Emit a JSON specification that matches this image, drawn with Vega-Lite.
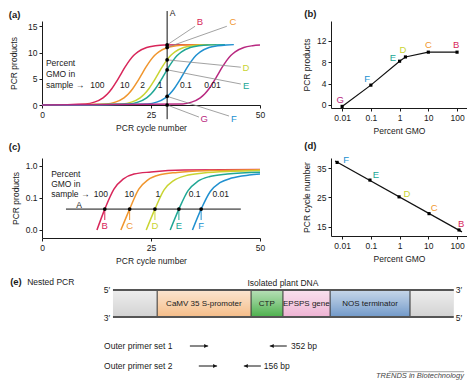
{
"$schema": "https://vega.github.io/schema/vega-lite/v6.json",
"background": "white",
"padding": {"left": 8, "top": 8, "right": 0, "bottom": 0},
"columns": 2,
"bounds": "flush",
"align": {"row": "each", "column": "each"},
"spacing": {"row": 50, "column": 71},
"config": {
  "view": {"stroke": null},
  "font": "Liberation Sans",
  "text": {"font": "Liberation Sans", "fontSize": 8.5, "color": "#1a1a1a"},
  "axis": {"grid": false, "domainColor": "#1a1a1a", "tickColor": "#1a1a1a", "labelColor": "#1a1a1a", "titleColor": "#1a1a1a", "labelFont": "Liberation Sans", "titleFont": "Liberation Sans", "labelFontSize": 8.5, "titleFontSize": 8.5, "titleFontWeight": "normal", "tickSize": 3, "labelPadding": 2, "labelFlush": false, "titlePadding": 5}
},
"datasets": {
  "cA": [
    {"k":"B","x":0,"y":0},{"k":"B","x":10,"y":0.21},{"k":"B","x":12,"y":0.54},{"k":"B","x":14,"y":1.37},{"k":"B","x":15,"y":2.09},{"k":"B","x":16,"y":3.09},{"k":"B","x":17,"y":4.35},{"k":"B","x":18,"y":5.75},{"k":"B","x":19,"y":7.15},{"k":"B","x":20,"y":8.41},{"k":"B","x":21,"y":9.41},{"k":"B","x":22,"y":10.13},{"k":"B","x":24,"y":10.96},{"k":"B","x":26,"y":11.29},{"k":"B","x":28,"y":11.45},{"k":"B","x":36,"y":11.5},
    {"k":"C","x":0,"y":0},{"k":"C","x":14.8,"y":0.21},{"k":"C","x":16.8,"y":0.54},{"k":"C","x":18.8,"y":1.37},{"k":"C","x":19.8,"y":2.09},{"k":"C","x":20.8,"y":3.09},{"k":"C","x":21.8,"y":4.35},{"k":"C","x":22.8,"y":5.75},{"k":"C","x":23.8,"y":7.15},{"k":"C","x":24.8,"y":8.41},{"k":"C","x":25.8,"y":9.41},{"k":"C","x":26.8,"y":10.13},{"k":"C","x":28.8,"y":10.96},{"k":"C","x":30.8,"y":11.29},{"k":"C","x":32.8,"y":11.45},{"k":"C","x":38,"y":11.5},
    {"k":"D","x":0,"y":0},{"k":"D","x":18.5,"y":0.21},{"k":"D","x":20.5,"y":0.54},{"k":"D","x":22.5,"y":1.37},{"k":"D","x":23.5,"y":2.09},{"k":"D","x":24.5,"y":3.09},{"k":"D","x":25.5,"y":4.35},{"k":"D","x":26.5,"y":5.75},{"k":"D","x":27.5,"y":7.15},{"k":"D","x":28.5,"y":8.41},{"k":"D","x":29.5,"y":9.41},{"k":"D","x":30.5,"y":10.13},{"k":"D","x":32.5,"y":10.96},{"k":"D","x":34.5,"y":11.29},{"k":"D","x":36.5,"y":11.45},{"k":"D","x":40,"y":11.5},
    {"k":"E","x":0,"y":0},{"k":"E","x":20,"y":0.21},{"k":"E","x":22,"y":0.54},{"k":"E","x":24,"y":1.37},{"k":"E","x":25,"y":2.09},{"k":"E","x":26,"y":3.09},{"k":"E","x":27,"y":4.35},{"k":"E","x":28,"y":5.75},{"k":"E","x":29,"y":7.15},{"k":"E","x":30,"y":8.41},{"k":"E","x":31,"y":9.41},{"k":"E","x":32,"y":10.13},{"k":"E","x":34,"y":10.96},{"k":"E","x":36,"y":11.29},{"k":"E","x":38,"y":11.45},{"k":"E","x":42,"y":11.5},
    {"k":"F","x":0,"y":0},{"k":"F","x":24.3,"y":0.21},{"k":"F","x":26.3,"y":0.54},{"k":"F","x":28.3,"y":1.37},{"k":"F","x":29.3,"y":2.09},{"k":"F","x":30.3,"y":3.09},{"k":"F","x":31.3,"y":4.35},{"k":"F","x":32.3,"y":5.75},{"k":"F","x":33.3,"y":7.15},{"k":"F","x":34.3,"y":8.41},{"k":"F","x":35.3,"y":9.41},{"k":"F","x":36.3,"y":10.13},{"k":"F","x":38.3,"y":10.96},{"k":"F","x":40.3,"y":11.29},{"k":"F","x":42.3,"y":11.45},{"k":"F","x":44,"y":11.5},
    {"k":"G","x":0,"y":0},{"k":"G","x":32.3,"y":0.21},{"k":"G","x":34.3,"y":0.54},{"k":"G","x":36.3,"y":1.37},{"k":"G","x":37.3,"y":2.09},{"k":"G","x":38.3,"y":3.09},{"k":"G","x":39.3,"y":4.35},{"k":"G","x":40.3,"y":5.75},{"k":"G","x":41.3,"y":7.15},{"k":"G","x":42.3,"y":8.41},{"k":"G","x":43.3,"y":9.41},{"k":"G","x":44.3,"y":10.13},{"k":"G","x":46.3,"y":10.96},{"k":"G","x":48.3,"y":11.29},{"k":"G","x":50,"y":11.42}
  ],
  "ptA": [
    {"k":"B","x":28.7,"y":11.45,"x2":35.1,"y2":15.0,"lx":36.2,"ly":15.9},
    {"k":"C","x":28.7,"y":10.97,"x2":42.4,"y2":15.0,"lx":43.8,"ly":15.9},
    {"k":"D","x":28.7,"y":8.6,"x2":45.6,"y2":7.2,"lx":46.8,"ly":7.0},
    {"k":"E","x":28.7,"y":6.7,"x2":45.6,"y2":4.0,"lx":46.8,"ly":3.6},
    {"k":"F","x":28.7,"y":1.65,"x2":42.9,"y2":-2.1,"lx":44.0,"ly":-2.7},
    {"k":"G","x":28.7,"y":0,"x2":36.0,"y2":-2.3,"lx":37.2,"ly":-2.7}
  ],
  "numA": [
    {"t":"100","x":12.7,"y":3.9},{"t":"10","x":19,"y":3.9},{"t":"2","x":23.1,"y":3.9},{"t":"1","x":27.1,"y":3.9},{"t":"0.1","x":33,"y":3.9},{"t":"0.01","x":39.1,"y":3.9}
  ],
  "infoA": [
    {"t":"Percent","x":0.9,"y":8.0},{"t":"GMO in","x":0.9,"y":5.9},{"t":"sample →","x":0.9,"y":3.9},{"t":"A","x":29.3,"y":17.45}
  ],
  "pB": [
    {"k":"G","x":0.01,"y":-0.3},{"k":"F","x":0.1,"y":3.7},{"k":"E","x":1,"y":8.2},{"k":"D","x":1.6,"y":9.0},{"k":"C","x":10,"y":9.9},{"k":"B","x":100,"y":9.9}
  ],
  "lB": [
    {"k":"G","x":0.0085,"y":0.9},{"k":"F","x":0.074,"y":4.85},{"k":"E","x":0.59,"y":8.8},{"k":"D","x":1.32,"y":10.3},{"k":"C","x":10,"y":11.2},{"k":"B","x":93,"y":11.2}
  ],
  "cC": [
    {"k":"B","x":12.6,"y":0.01},{"k":"B","x":14.4,"y":0.045},{"k":"B","x":16.5,"y":0.19},{"k":"B","x":18.6,"y":0.39},{"k":"B","x":21.1,"y":0.56},{"k":"B","x":25,"y":0.65},{"k":"B","x":32.6,"y":0.75},{"k":"B","x":50,"y":0.78},
    {"k":"C","x":18.1,"y":0.01},{"k":"C","x":20.1,"y":0.045},{"k":"C","x":22.2,"y":0.19},{"k":"C","x":24.3,"y":0.37},{"k":"C","x":27,"y":0.53},{"k":"C","x":31,"y":0.63},{"k":"C","x":38.5,"y":0.72},{"k":"C","x":50,"y":0.77},
    {"k":"D","x":23.9,"y":0.01},{"k":"D","x":25.9,"y":0.045},{"k":"D","x":28,"y":0.18},{"k":"D","x":30.2,"y":0.35},{"k":"D","x":33,"y":0.5},{"k":"D","x":37,"y":0.6},{"k":"D","x":44,"y":0.68},{"k":"D","x":50,"y":0.72},
    {"k":"E","x":29.4,"y":0.01},{"k":"E","x":31.4,"y":0.045},{"k":"E","x":33.5,"y":0.17},{"k":"E","x":35.7,"y":0.33},{"k":"E","x":38.5,"y":0.47},{"k":"E","x":42.5,"y":0.56},{"k":"E","x":50,"y":0.64},
    {"k":"F","x":34.5,"y":0.01},{"k":"F","x":36.5,"y":0.045},{"k":"F","x":38.6,"y":0.16},{"k":"F","x":40.8,"y":0.3},{"k":"F","x":43.5,"y":0.42},{"k":"F","x":47.5,"y":0.52},{"k":"F","x":50,"y":0.56}
  ],
  "tkC": [
    {"k":"B","x":14.4,"y":0.045,"y2":0.0205,"ly":0.0133},
    {"k":"C","x":20.1,"y":0.045,"y2":0.0205,"ly":0.0133},
    {"k":"D","x":25.9,"y":0.045,"y2":0.0205,"ly":0.0133},
    {"k":"E","x":31.4,"y":0.045,"y2":0.0205,"ly":0.0133},
    {"k":"F","x":36.5,"y":0.045,"y2":0.0205,"ly":0.0133}
  ],
  "numC": [
    {"t":"100","x":13.5,"y":0.133},{"t":"10","x":20,"y":0.133},{"t":"1","x":26.6,"y":0.133},{"t":"0.1","x":35,"y":0.133},{"t":"0.01","x":41,"y":0.133},{"t":"A","x":8.5,"y":0.06}
  ],
  "infoC": [
    {"t":"Percent","x":2.1,"y":0.56},{"t":"GMO in","x":2.1,"y":0.27},{"t":"sample →","x":2.1,"y":0.133}
  ],
  "lnD": [
    {"x":0.0057,"y":37.4},{"x":148,"y":13.3}
  ],
  "pD": [
    {"k":"F","x":0.0067,"y":36.9},{"k":"E","x":0.093,"y":30.9},{"k":"D","x":0.96,"y":25.2},{"k":"C","x":10.6,"y":19.5},{"k":"B","x":117,"y":13.95}
  ],
  "lD": [
    {"k":"F","x":0.0138,"y":37.7},{"k":"E","x":0.15,"y":32.6},{"k":"D","x":1.8,"y":26.2},{"k":"C","x":15.9,"y":21.4},{"k":"B","x":138,"y":16.0}
  ],
  "segE": [
    {"seg":"flank","x":16.7,"x2":27.1,"y":2,"y2":29},
    {"seg":"CaMV","x":27.1,"x2":49.2,"y":2,"y2":29},
    {"seg":"CTP","x":49.2,"x2":56.7,"y":2,"y2":29},
    {"seg":"EPSPS","x":56.7,"x2":67.8,"y":2,"y2":29},
    {"seg":"NOS","x":67.8,"x2":86.6,"y":2,"y2":29},
    {"seg":"flank","x":86.6,"x2":96.9,"y":2,"y2":29}
  ],
  "divE": [
    {"x":27.1,"y":2,"y2":29},{"x":49.2,"y":2,"y2":29},{"x":56.7,"y":2,"y2":29},{"x":67.8,"y":2,"y2":29},{"x":86.6,"y":2,"y2":29}
  ],
  "strE": [
    {"x":16.7,"x2":96.9,"y":2},{"x":16.7,"x2":96.9,"y":29}
  ],
  "arrE": [
    {"x":34.8,"x2":39.1,"y":58},{"x":53.6,"x2":57.6,"y":58},{"x":36.9,"x2":41.2,"y":78},{"x":47.5,"x2":51.5,"y":78}
  ],
  "headE": [
    {"x":38.6,"y":58,"dir":"fwd"},{"x":54.1,"y":58,"dir":"rev"},{"x":40.7,"y":78,"dir":"fwd"},{"x":48.0,"y":78,"dir":"rev"}
  ],
  "leftE": [
    {"t":"Nested PCR","x":-3.5,"y":-6},{"t":"Outer primer set 1","x":14.6,"y":58},{"t":"Outer primer set 2","x":14.6,"y":78},{"t":"352 bp","x":58.6,"y":58},{"t":"156 bp","x":52.2,"y":78}
  ],
  "ctrE": [
    {"t":"Isolated plant DNA","x":56.7,"y":-5.5},{"t":"5′","x":15.3,"y":2},{"t":"3′","x":15.3,"y":29.5},{"t":"3′","x":98.1,"y":2},{"t":"5′","x":98.1,"y":29.5}
  ],
  "segT": [
    {"t":"CaMV 35 S-promoter","x":38.1,"y":15.5},{"t":"CTP","x":52.9,"y":15.5},{"t":"EPSPS gene","x":62.2,"y":15.5},{"t":"NOS terminator","x":77.2,"y":15.5}
  ]
},
"concat": [
  {
    "width": 218, "height": 84,
    "layer": [
      {"data": {"name": "cA"}, "mark": {"type": "line", "interpolate": "monotone", "strokeWidth": 1.5},
       "encoding": {
         "x": {"field": "x", "type": "quantitative", "scale": {"domain": [0, 50], "nice": false, "zero": false}, "axis": {"values": [0, 25, 50], "tickCount": 10, "title": "PCR cycle number"}},
         "y": {"field": "y", "type": "quantitative", "scale": {"domain": [0, 16], "nice": false, "zero": false}, "axis": {"values": [0, 5, 10, 15], "tickCount": 10, "title": "PCR products", "titlePadding": 9}},
         "color": {"field": "k", "type": "nominal", "scale": {"domain": ["B","C","D","E","F","G"], "range": ["#d8265a","#f0962e","#c9d432","#20a795","#2090d0","#b82880"]}, "legend": null}}},
      {"data": {"values": [{"x": 28.7, "y": -2.7, "y2": 17.9}]}, "mark": {"type": "rule", "color": "#111", "strokeWidth": 1, "clip": false},
       "encoding": {"x": {"field": "x", "type": "quantitative"}, "y": {"field": "y", "type": "quantitative"}, "y2": {"field": "y2"}}},
      {"data": {"name": "ptA"}, "mark": {"type": "rule", "color": "#8a8a8a", "strokeWidth": 0.8, "clip": false},
       "encoding": {"x": {"field": "x", "type": "quantitative"}, "y": {"field": "y", "type": "quantitative"}, "x2": {"field": "x2"}, "y2": {"field": "y2"}}},
      {"data": {"name": "ptA"}, "mark": {"type": "circle", "color": "#000", "size": 14, "opacity": 1},
       "encoding": {"x": {"field": "x", "type": "quantitative"}, "y": {"field": "y", "type": "quantitative"}}},
      {"data": {"name": "ptA"}, "mark": {"type": "text", "fontSize": 9.5, "clip": false},
       "encoding": {"x": {"field": "lx", "type": "quantitative"}, "y": {"field": "ly", "type": "quantitative"}, "text": {"field": "k"},
         "color": {"field": "k", "type": "nominal", "scale": {"domain": ["B","C","D","E","F","G"], "range": ["#d8265a","#f0962e","#c9d432","#20a795","#2090d0","#b82880"]}, "legend": null}}},
      {"data": {"name": "numA"}, "mark": {"type": "text", "align": "center"},
       "encoding": {"x": {"field": "x", "type": "quantitative"}, "y": {"field": "y", "type": "quantitative"}, "text": {"field": "t"}}},
      {"data": {"name": "infoA"}, "mark": {"type": "text", "align": "left", "clip": false},
       "encoding": {"x": {"field": "x", "type": "quantitative"}, "y": {"field": "y", "type": "quantitative"}, "text": {"field": "t"}}},
      {"data": {"values": [{"t": "(a)", "x": -7.6, "y": 17.1}]}, "mark": {"type": "text", "align": "left", "fontWeight": "bold", "fontSize": 9.5, "clip": false},
       "encoding": {"x": {"field": "x", "type": "quantitative"}, "y": {"field": "y", "type": "quantitative"}, "text": {"field": "t"}}}
    ]
  },
  {
    "width": 136, "height": 87,
    "layer": [
      {"data": {"name": "pB"}, "mark": {"type": "line", "color": "#111", "strokeWidth": 1.2},
       "encoding": {
         "x": {"field": "x", "type": "quantitative", "scale": {"type": "log", "domain": [0.0041, 222], "nice": false}, "axis": {"values": [0.01, 0.1, 1, 10, 100], "tickCount": 10, "format": "~g", "title": "Percent GMO"}},
         "y": {"field": "y", "type": "quantitative", "scale": {"domain": [-0.6, 15.76], "nice": false, "zero": false}, "axis": {"values": [0, 4, 8, 12], "tickCount": 10, "title": "PCR products", "titlePadding": 5}}}},
      {"data": {"name": "pB"}, "mark": {"type": "square", "color": "#000", "size": 10, "filled": true, "opacity": 1},
       "encoding": {"x": {"field": "x", "type": "quantitative"}, "y": {"field": "y", "type": "quantitative"}}},
      {"data": {"name": "lB"}, "mark": {"type": "text", "fontSize": 9.5, "clip": false},
       "encoding": {"x": {"field": "x", "type": "quantitative"}, "y": {"field": "y", "type": "quantitative"}, "text": {"field": "k"},
         "color": {"field": "k", "type": "nominal", "scale": {"domain": ["B","C","D","E","F","G"], "range": ["#d8265a","#f0962e","#c9d432","#20a795","#2090d0","#b82880"]}, "legend": null}}},
      {"data": {"values": [{"t": "(b)", "x": 0.00048, "y": 17.08}]}, "mark": {"type": "text", "align": "left", "fontWeight": "bold", "fontSize": 9.5, "clip": false},
       "encoding": {"x": {"field": "x", "type": "quantitative"}, "y": {"field": "y", "type": "quantitative"}, "text": {"field": "t"}}}
    ]
  },
  {
    "width": 218, "height": 80,
    "layer": [
      {"data": {"name": "cC"}, "mark": {"type": "line", "interpolate": "monotone", "strokeWidth": 1.5},
       "encoding": {
         "x": {"field": "x", "type": "quantitative", "scale": {"domain": [0, 50], "nice": false, "zero": false}, "axis": {"values": [0, 25, 50], "tickCount": 10, "title": "PCR cycle number"}},
         "y": {"field": "y", "type": "quantitative", "scale": {"type": "log", "domain": [0.00562, 1.778], "nice": false}, "axis": {"values": [0.01, 0.1, 1], "tickCount": 10, "format": ".1f", "title": "PCR products", "titlePadding": 5}},
         "color": {"field": "k", "type": "nominal", "scale": {"domain": ["B","C","D","E","F","G"], "range": ["#d8265a","#f0962e","#c9d432","#20a795","#2090d0","#b82880"]}, "legend": null}}},
      {"data": {"values": [{"x": 5.5, "x2": 45.6, "y": 0.045}]}, "mark": {"type": "rule", "color": "#111", "strokeWidth": 1},
       "encoding": {"x": {"field": "x", "type": "quantitative"}, "x2": {"field": "x2"}, "y": {"field": "y", "type": "quantitative"}}},
      {"data": {"name": "tkC"}, "mark": {"type": "rule", "strokeWidth": 1},
       "encoding": {"x": {"field": "x", "type": "quantitative"}, "y": {"field": "y", "type": "quantitative"}, "y2": {"field": "y2"},
         "color": {"field": "k", "type": "nominal", "scale": {"domain": ["B","C","D","E","F","G"], "range": ["#d8265a","#f0962e","#c9d432","#20a795","#2090d0","#b82880"]}, "legend": null}}},
      {"data": {"name": "tkC"}, "mark": {"type": "circle", "color": "#000", "size": 14, "opacity": 1},
       "encoding": {"x": {"field": "x", "type": "quantitative"}, "y": {"field": "y", "type": "quantitative"}}},
      {"data": {"name": "tkC"}, "mark": {"type": "text", "fontSize": 9.5},
       "encoding": {"x": {"field": "x", "type": "quantitative"}, "y": {"field": "ly", "type": "quantitative"}, "text": {"field": "k"},
         "color": {"field": "k", "type": "nominal", "scale": {"domain": ["B","C","D","E","F","G"], "range": ["#d8265a","#f0962e","#c9d432","#20a795","#2090d0","#b82880"]}, "legend": null}}},
      {"data": {"name": "numC"}, "mark": {"type": "text", "align": "center"},
       "encoding": {"x": {"field": "x", "type": "quantitative"}, "y": {"field": "y", "type": "quantitative"}, "text": {"field": "t"}}},
      {"data": {"name": "infoC"}, "mark": {"type": "text", "align": "left"},
       "encoding": {"x": {"field": "x", "type": "quantitative"}, "y": {"field": "y", "type": "quantitative"}, "text": {"field": "t"}}},
      {"data": {"values": [{"t": "(c)", "x": -7.6, "y": 3.9}]}, "mark": {"type": "text", "align": "left", "fontWeight": "bold", "fontSize": 9.5, "clip": false},
       "encoding": {"x": {"field": "x", "type": "quantitative"}, "y": {"field": "y", "type": "quantitative"}, "text": {"field": "t"}}}
    ]
  },
  {
    "width": 136, "height": 78,
    "layer": [
      {"data": {"name": "lnD"}, "mark": {"type": "line", "color": "#111", "strokeWidth": 1.2},
       "encoding": {
         "x": {"field": "x", "type": "quantitative", "scale": {"type": "log", "domain": [0.0041, 222], "nice": false}, "axis": {"values": [0.01, 0.1, 1, 10, 100], "tickCount": 10, "format": "~g", "title": "Percent GMO"}},
         "y": {"field": "y", "type": "quantitative", "scale": {"domain": [11.9, 38.4], "nice": false, "zero": false}, "axis": {"values": [15, 25, 35], "tickCount": 10, "title": "PCR cycle number", "titlePadding": 5}}}},
      {"data": {"name": "pD"}, "mark": {"type": "square", "color": "#000", "size": 10, "filled": true, "opacity": 1},
       "encoding": {"x": {"field": "x", "type": "quantitative"}, "y": {"field": "y", "type": "quantitative"}}},
      {"data": {"name": "lD"}, "mark": {"type": "text", "fontSize": 9.5, "clip": false},
       "encoding": {"x": {"field": "x", "type": "quantitative"}, "y": {"field": "y", "type": "quantitative"}, "text": {"field": "k"},
         "color": {"field": "k", "type": "nominal", "scale": {"domain": ["B","C","D","E","F","G"], "range": ["#d8265a","#f0962e","#c9d432","#20a795","#2090d0","#b82880"]}, "legend": null}}},
      {"data": {"values": [{"t": "(d)", "x": 0.00048, "y": 42.5}]}, "mark": {"type": "text", "align": "left", "fontWeight": "bold", "fontSize": 9.5, "clip": false},
       "encoding": {"x": {"field": "x", "type": "quantitative"}, "y": {"field": "y", "type": "quantitative"}, "text": {"field": "t"}}}
    ]
  },
  {
    "width": 218, "height": 90,
    "layer": [
      {"data": {"name": "segE"}, "mark": {"type": "rect", "clip": false},
       "encoding": {
         "x": {"field": "x", "type": "quantitative", "scale": {"domain": [0, 51.3], "nice": false, "zero": false}, "axis": null},
         "x2": {"field": "x2"},
         "y": {"field": "y", "type": "quantitative", "scale": {"domain": [0, 90], "nice": false, "zero": false, "reverse": true}, "axis": null},
         "y2": {"field": "y2"},
         "fill": {"field": "seg", "type": "nominal", "scale": {"domain": ["flank","CaMV","CTP","EPSPS","NOS"], "range": ["#d2d2d2","#f5bd88","#4cb04c","#eeb3d3","#7199c9"]}, "legend": null}}},
      {"data": {"values": [{"x": 16.7, "x2": 96.9, "y": 2, "y2": 29}]},
       "mark": {"type": "rect", "clip": false, "fill": {"gradient": "linear", "x1": 0, "y1": 0, "x2": 0, "y2": 1, "stops": [{"offset": 0, "color": "rgba(255,255,255,0.6)"}, {"offset": 0.45, "color": "rgba(255,255,255,0.35)"}, {"offset": 1, "color": "rgba(255,255,255,0)"}]}},
       "encoding": {"x": {"field": "x", "type": "quantitative"}, "x2": {"field": "x2"}, "y": {"field": "y", "type": "quantitative"}, "y2": {"field": "y2"}}},
      {"data": {"name": "divE"}, "mark": {"type": "rule", "color": "#333", "strokeWidth": 1, "clip": false},
       "encoding": {"x": {"field": "x", "type": "quantitative"}, "y": {"field": "y", "type": "quantitative"}, "y2": {"field": "y2"}}},
      {"data": {"name": "strE"}, "mark": {"type": "rule", "color": "#555", "strokeWidth": 1.8, "clip": false},
       "encoding": {"x": {"field": "x", "type": "quantitative"}, "x2": {"field": "x2"}, "y": {"field": "y", "type": "quantitative"}}},
      {"data": {"name": "arrE"}, "mark": {"type": "rule", "color": "#111", "strokeWidth": 1, "clip": false},
       "encoding": {"x": {"field": "x", "type": "quantitative"}, "x2": {"field": "x2"}, "y": {"field": "y", "type": "quantitative"}}},
      {"data": {"name": "headE"}, "mark": {"type": "point", "filled": true, "color": "#111", "size": 18, "opacity": 1, "clip": false},
       "encoding": {"x": {"field": "x", "type": "quantitative"}, "y": {"field": "y", "type": "quantitative"},
         "shape": {"field": "dir", "type": "nominal", "scale": {"domain": ["fwd","rev"], "range": ["triangle-right","triangle-left"]}, "legend": null}}},
      {"data": {"values": [{"x": 81.6, "x2": 99.3, "y": 83.7}]}, "mark": {"type": "rule", "color": "#777", "strokeWidth": 0.7, "clip": false},
       "encoding": {"x": {"field": "x", "type": "quantitative"}, "x2": {"field": "x2"}, "y": {"field": "y", "type": "quantitative"}}},
      {"data": {"name": "leftE"}, "mark": {"type": "text", "align": "left", "clip": false},
       "encoding": {"x": {"field": "x", "type": "quantitative"}, "y": {"field": "y", "type": "quantitative"}, "text": {"field": "t"}}},
      {"data": {"name": "ctrE"}, "mark": {"type": "text", "align": "center", "clip": false},
       "encoding": {"x": {"field": "x", "type": "quantitative"}, "y": {"field": "y", "type": "quantitative"}, "text": {"field": "t"}}},
      {"data": {"name": "segT"}, "mark": {"type": "text", "align": "center", "fontSize": 8, "clip": false},
       "encoding": {"x": {"field": "x", "type": "quantitative"}, "y": {"field": "y", "type": "quantitative"}, "text": {"field": "t"}}},
      {"data": {"values": [{"t": "(e)", "x": -7.5, "y": -6}]}, "mark": {"type": "text", "align": "left", "fontWeight": "bold", "fontSize": 9.5, "clip": false},
       "encoding": {"x": {"field": "x", "type": "quantitative"}, "y": {"field": "y", "type": "quantitative"}, "text": {"field": "t"}}},
      {"data": {"values": [{"t": "TRENDS in Biotechnology", "x": 99.3, "y": 88}]}, "mark": {"type": "text", "align": "right", "fontStyle": "italic", "fontSize": 7.5, "color": "#444", "clip": false},
       "encoding": {"x": {"field": "x", "type": "quantitative"}, "y": {"field": "y", "type": "quantitative"}, "text": {"field": "t"}}}
    ]
  }
]
}
